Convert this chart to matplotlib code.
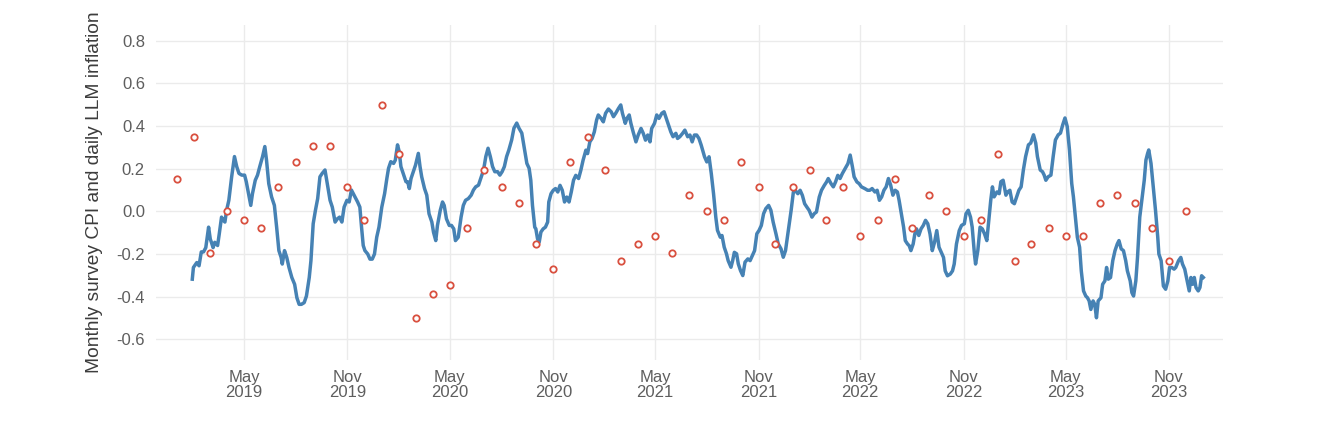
import matplotlib
matplotlib.use("Agg")
import matplotlib.pyplot as plt
import matplotlib.dates as mdates
import pandas as pd

# ---- Monthly survey CPI (points) ----
survey_month = pd.date_range("2019-01-01", "2023-12-01", freq="MS")
survey_val = [
    0.154, 0.347, -0.193, 0.000, -0.039, -0.077, 0.114, 0.230, 0.307, 0.307, 0.114, -0.039,   # 2019
    0.500, 0.268, -0.502, -0.386, -0.347, -0.077, 0.193, 0.114, 0.038, -0.154, -0.270, 0.230,  # 2020
    0.347, 0.193, -0.232, -0.154, -0.116, -0.193, 0.077, 0.000, -0.039, 0.230, 0.114, -0.154,  # 2021
    0.114, 0.193, -0.039, 0.114, -0.116, -0.039, 0.154, -0.077, 0.077, 0.000, -0.116, -0.039,  # 2022
    0.270, -0.232, -0.154, -0.077, -0.116, -0.116, 0.038, 0.077, 0.038, -0.077, -0.232, 0.000, # 2023
]

# ---- Daily LLM inflation (line): day = days since 2019-01-01 ----
line_day = [
    28, 30, 36, 40, 44, 48, 52, 57, 60, 62, 65, 68, 73, 76, 80, 83, 86, 89, 93, 98,
    103, 107, 111, 116, 121, 124, 128, 132, 135, 140, 144, 148, 153, 157, 160, 164, 169, 174, 178, 182,
    186, 188, 192, 196, 200, 205, 210, 214, 218, 222, 227, 231, 236, 239, 243, 247, 251, 255, 259, 264,
    269, 273, 277, 282, 286, 290, 294, 298, 303, 307, 311,
    322, 326, 329, 332, 335, 340, 344, 348, 352, 356, 360, 365, 370, 374, 377, 381, 386, 389, 393, 396,
    399, 403, 408, 411, 414, 417, 421, 425, 430, 433, 436, 441, 445, 449, 454, 457, 461, 464, 469, 473,
    476, 480, 485, 489, 493, 496, 501, 506, 510, 514, 519, 524, 528, 532, 537, 541, 546, 550, 554, 558,
    562, 566, 571, 575, 579, 583, 587, 591, 596, 600, 605, 609, 614, 618, 623, 627, 630, 633, 637,
    639, 642, 645, 648, 652, 656, 660, 662, 666, 670, 674, 678, 682, 686, 690, 694, 698, 702, 706, 710,
    715, 719, 723, 728, 731, 735, 739, 743, 747, 750, 755, 759, 763, 768, 773, 777, 781, 786, 790, 793,
    798, 801, 805, 808, 812, 817, 821, 826, 830, 834, 838, 842, 845, 850, 854, 858, 863, 867, 872, 875,
    879, 883, 888, 891, 895, 900, 904, 909, 913, 917, 921, 925, 929, 933,
    939, 943, 947, 951, 955, 959, 962, 967, 970, 974, 978, 981, 986, 989, 992, 996, 999, 1003, 1007, 1011,
    1016, 1020, 1024, 1028, 1032, 1036, 1040, 1044, 1048, 1053, 1057, 1061, 1066, 1070, 1075, 1079, 1083, 1088, 1093, 1097,
    1100, 1105, 1109, 1113, 1117, 1121, 1125, 1130, 1134, 1138, 1143, 1147, 1152, 1156, 1159, 1164, 1168, 1172, 1176, 1180,
    1184, 1189, 1194, 1198, 1202, 1205, 1210, 1214, 1218, 1224,
    1229, 1233, 1237, 1242, 1246, 1250, 1254, 1258, 1262, 1266, 1270, 1274, 1278, 1282, 1285, 1290, 1293, 1296, 1300, 1303,
    1306, 1310, 1313, 1316, 1320, 1324, 1328, 1332, 1336, 1340, 1344, 1348, 1352, 1356, 1360, 1364, 1367, 1371, 1376, 1380,
    1383, 1387, 1392, 1396, 1401, 1404, 1408, 1412, 1415, 1419, 1421, 1425, 1429, 1433, 1437, 1441, 1444, 1448, 1451, 1454,
    1459, 1463, 1466, 1470, 1475, 1478, 1482, 1486, 1490, 1494, 1498, 1502, 1506, 1510, 1515, 1519, 1524, 1528, 1531, 1536,
    1540, 1543,
    1546, 1550, 1555, 1559, 1563, 1568, 1572, 1576, 1580, 1584, 1588, 1592, 1595, 1598, 1602, 1606, 1609, 1613, 1617, 1620,
    1623, 1626, 1630, 1633, 1636, 1639, 1644, 1647, 1651, 1654, 1657, 1661, 1665, 1669, 1673, 1676, 1680, 1684, 1688, 1691,
    1696, 1699, 1702, 1706, 1709, 1713, 1718, 1721, 1724, 1727, 1729, 1733, 1737, 1741, 1745, 1747, 1751, 1755, 1759, 1763,
    1766, 1770, 1774, 1777, 1782, 1786, 1789, 1793, 1796, 1801, 1804, 1807, 1810, 1813, 1817, 1820, 1823, 1826,
]
line_val = [
    -0.318, -0.263, -0.240, -0.255, -0.190, -0.190, -0.170, -0.074, -0.130, -0.145, -0.170, -0.145, -0.160, -0.105, -0.027, -0.042, -0.050, 0.005, 0.052, 0.162,
    0.257, 0.210, 0.178, 0.170, 0.170, 0.139, 0.083, 0.028, 0.083, 0.146, 0.170, 0.210, 0.257, 0.304, 0.240, 0.130, 0.068, 0.028, -0.074, -0.184,
    -0.216, -0.247, -0.184, -0.216, -0.263, -0.310, -0.342, -0.405, -0.436, -0.436, -0.428, -0.397, -0.310, -0.231, -0.058, 0.005, 0.060, 0.162, 0.178, 0.194,
    0.115, 0.052, 0.020, -0.050, -0.035, -0.027, -0.050, 0.020, 0.052, 0.044, 0.100,
    0.044, 0.020, -0.074, -0.160, -0.184, -0.200, -0.224, -0.224, -0.200, -0.121, -0.074, 0.020, 0.083, 0.154, 0.202, 0.233, 0.225, 0.240, 0.312, 0.280,
    0.210, 0.178, 0.139, 0.139, 0.107, 0.154, 0.186, 0.217, 0.272, 0.210, 0.162, 0.107, 0.076, -0.011, -0.050, -0.098, -0.137, -0.066, 0.005, 0.044,
    0.028, -0.035, -0.066, -0.066, -0.082, -0.137, -0.121, -0.027, 0.028, 0.052, 0.060, 0.076, 0.100, 0.115, 0.123, 0.154, 0.194, 0.257, 0.296, 0.257,
    0.210, 0.186, 0.186, 0.170, 0.186, 0.210, 0.257, 0.288, 0.335, 0.390, 0.414, 0.390, 0.367, 0.304, 0.225, 0.202, 0.146, 0.028, -0.074,
    -0.082, -0.129, -0.144, -0.097, -0.082, -0.074, -0.050, 0.044, 0.083, 0.099, 0.107, 0.091, 0.122, 0.099, 0.044, 0.067, 0.044, 0.091, 0.146, 0.169,
    0.154, 0.193, 0.240, 0.287, 0.271, 0.326, 0.342, 0.373, 0.428, 0.452, 0.436, 0.420, 0.460, 0.480, 0.467, 0.444, 0.460, 0.483, 0.499, 0.460,
    0.413, 0.436, 0.452, 0.413, 0.373, 0.326, 0.358, 0.389, 0.366, 0.334, 0.358, 0.326, 0.389, 0.413, 0.452, 0.436, 0.460, 0.467, 0.428, 0.405,
    0.373, 0.350, 0.366, 0.342, 0.350, 0.366, 0.381, 0.350, 0.358, 0.326, 0.358, 0.358, 0.342, 0.311,
    0.256, 0.232, 0.256, 0.177, 0.083, -0.027, -0.089, -0.121, -0.113, -0.168, -0.199, -0.231, -0.262, -0.231, -0.192, -0.199, -0.246, -0.278, -0.301, -0.238,
    -0.223, -0.231, -0.207, -0.184, -0.105, -0.089, -0.066, -0.011, 0.013, 0.028, 0.005, -0.050, -0.105, -0.152, -0.176, -0.215, -0.184, -0.089, 0.005, 0.091,
    0.099, 0.083, 0.099, 0.075, 0.036, 0.020, 0.005, -0.027, -0.011, -0.003, 0.067, 0.099, 0.122, 0.138, 0.154, 0.130, 0.115, 0.138, 0.169, 0.154,
    0.177, 0.201, 0.224, 0.264, 0.209, 0.162, 0.138, 0.130, 0.115, 0.107,
    0.099, 0.099, 0.107, 0.091, 0.099, 0.052, 0.068, 0.099, 0.115, 0.154, 0.123, 0.076, 0.099, 0.091, 0.052, -0.027, -0.074, -0.137, -0.153, -0.161,
    -0.184, -0.153, -0.106, -0.082, -0.113, -0.082, -0.066, -0.042, -0.058, -0.106, -0.184, -0.145, -0.090, -0.168, -0.192, -0.216, -0.279, -0.302, -0.294, -0.279,
    -0.247, -0.153, -0.090, -0.066, -0.058, -0.011, 0.005, -0.027, -0.074, -0.200, -0.247, -0.184, -0.074, -0.082, -0.106, -0.137, -0.058, 0.052, 0.115, 0.068,
    0.091, 0.083, 0.139, 0.146, 0.076, 0.091, 0.099, 0.044, 0.036, 0.068, 0.099, 0.115, 0.194, 0.257, 0.312, 0.320, 0.359, 0.320, 0.257, 0.194,
    0.186, 0.170,
    0.146, 0.162, 0.170, 0.257, 0.335, 0.359, 0.367, 0.406, 0.438, 0.398, 0.288, 0.131, 0.068, -0.011, -0.121, -0.168, -0.279, -0.373, -0.397, -0.405,
    -0.420, -0.460, -0.420, -0.436, -0.499, -0.420, -0.405, -0.342, -0.326, -0.263, -0.318, -0.310, -0.231, -0.184, -0.153, -0.137, -0.176, -0.184, -0.231, -0.279,
    -0.326, -0.381, -0.397, -0.326, -0.216, -0.027, 0.083, 0.146, 0.241, 0.272, 0.288, 0.225, 0.115, 0.005, -0.121, -0.200, -0.231, -0.350, -0.365, -0.326,
    -0.263, -0.263, -0.271, -0.263, -0.231, -0.216, -0.247, -0.271, -0.310, -0.373, -0.310, -0.342, -0.310, -0.357, -0.373, -0.357, -0.302, -0.310,
]

y_ticks = [-0.6, -0.4, -0.2, 0.0, 0.2, 0.4, 0.6, 0.8]
y_label = "Monthly survey CPI and daily LLM inflation"

line_dates = pd.Timestamp("2019-01-01") + pd.to_timedelta(line_day, unit="D")

plt.rcParams["font.family"] = ["Liberation Sans", "DejaVu Sans"]

fig = plt.figure(figsize=(13.2, 4.34), dpi=100)
ax = fig.add_axes([0.1182, 0.1705, 0.8083, 0.7719])

ax.plot(line_dates, line_val, color="#4682B4", lw=2.5, solid_joinstyle="round", zorder=2)
ax.plot(survey_month, survey_val, ls="none", marker="o", ms=4.6, mfc="white",
        mec="#d9503f", mew=1.3, zorder=3)

ax.set_xlim(pd.Timestamp("2018-11-25 12:00"), pd.Timestamp("2024-02-05"))
ax.set_ylim(-0.697, 0.874)

ax.xaxis.set_major_locator(mdates.MonthLocator(bymonth=[5, 11]))
ax.xaxis.set_major_formatter(mdates.DateFormatter("%b\n%Y"))
ax.set_yticks(y_ticks)
ax.set_yticklabels([f"{v:.1f}" for v in y_ticks])

ax.grid(True, color="#ebebeb", lw=1.0)
ax.set_axisbelow(True)
for s in ax.spines.values():
    s.set_visible(False)
ax.tick_params(length=0, labelsize=12, labelcolor="#5e5e5e")
ax.tick_params(axis="x", pad=7)
ax.tick_params(axis="y", pad=8)
for t in ax.get_xticklabels():
    t.set_linespacing(1.05)

ax.set_ylabel(y_label, fontsize=13.8, color="#3c3c3c")
ax.yaxis.set_label_coords(-0.0497, 0.5)

fig.savefig("out.png", dpi=100, facecolor="white")
